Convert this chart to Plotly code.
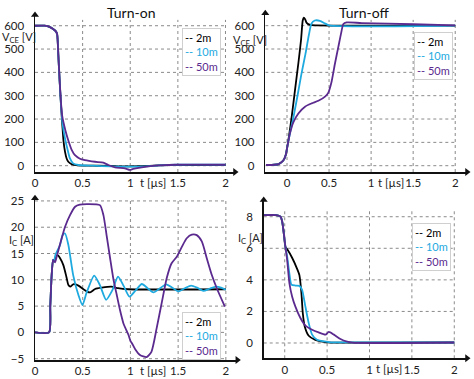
import plotly.graph_objects as go

# ---------------- data ----------------
series_names = ["2m", "10m", "50m"]
colors = ["#000000", "#1ea9df", "#5b2a8e"]

# Turn-on, V_CE [V]
on_v_t_2m = [0, 0.1, 0.157, 0.19, 0.217, 0.232, 0.245, 0.259, 0.273, 0.287, 0.30, 0.315, 0.332, 0.35, 0.385, 0.45, 0.6, 0.8, 0.9, 1.1, 1.3, 1.5, 2.0]
on_v_2m = [600, 600, 594, 586, 577, 565, 474, 360, 260, 174, 103, 60, 31, 17, 6, 1, 0, -1, -3, -2, 1, 3, 3]
on_v_t_10m = [0, 0.1, 0.157, 0.19, 0.217, 0.232, 0.245, 0.259, 0.273, 0.287, 0.315, 0.343, 0.367, 0.40, 0.455, 0.6, 0.8, 1.0, 1.15, 1.3, 1.5, 2.0]
on_v_10m = [600, 600, 594, 586, 577, 565, 474, 360, 262, 188, 117, 67, 31, 10, 3, 0, -3, -4, -3, 1, 4, 4]
on_v_t_50m = [0, 0.1, 0.157, 0.19, 0.217, 0.232, 0.245, 0.259, 0.273, 0.287, 0.32, 0.35, 0.385, 0.42, 0.472, 0.524, 0.63, 0.717, 0.77, 0.84, 0.944, 0.996, 1.03, 1.12, 1.26, 1.47, 2.0]
on_v_50m = [600, 600, 594, 586, 577, 565, 476, 365, 270, 210, 150, 108, 68, 45, 30, 24, 17, 13, 3, -7, -11, -18, -14, -7, 0, 4, 4]

# Turn-off, V_CE [V]
off_v_t_2m = [-0.25, -0.15, -0.1, -0.044, -0.016, 0.008, 0.056, 0.095, 0.135, 0.167, 0.187, 0.2, 0.215, 0.234, 0.274, 0.35, 2.0]
off_v_2m = [3, 4, 7, 22, 45, 90, 210, 324, 439, 539, 622, 634, 628, 612, 603, 601, 600]
off_v_t_10m = [-0.25, -0.15, -0.1, -0.044, -0.016, 0.008, 0.036, 0.075, 0.12, 0.17, 0.22, 0.26, 0.29, 0.33, 0.39, 0.45, 0.5, 2.0]
off_v_10m = [3, 4, 7, 22, 45, 90, 140, 205, 290, 390, 480, 560, 608, 622, 621, 610, 601, 600]
off_v_t_50m = [-0.25, -0.15, -0.1, -0.044, -0.016, 0.008, 0.036, 0.075, 0.135, 0.214, 0.294, 0.373, 0.452, 0.49, 0.53, 0.571, 0.611, 0.643, 0.67, 0.71, 0.89, 1.5, 2.0]
off_v_50m = [3, 4, 7, 22, 45, 90, 140, 186, 224, 253, 267, 278, 296, 312, 360, 439, 510, 567, 607, 614, 611, 606, 601]

# Turn-on, I_C [A]
on_i_t_2m = [0, 0.147, 0.16, 0.175, 0.19, 0.2, 0.215, 0.238, 0.26, 0.297, 0.33, 0.35, 0.37, 0.40, 0.455, 0.507, 0.55, 0.577, 0.63, 0.70, 0.80, 0.87, 0.98, 2.0]
on_i_2m = [0, 0, 5, 11, 13.8, 13.6, 14.3, 14.7, 14.2, 12.8, 10.5, 9.0, 8.7, 9.15, 8.9, 8.2, 7.7, 7.6, 8.25, 8.5, 8.7, 8.4, 8.2, 8.2]
on_i_t_10m = [0, 0.147, 0.16, 0.175, 0.19, 0.2, 0.215, 0.262, 0.29, 0.315, 0.35, 0.40, 0.455, 0.497, 0.54, 0.62, 0.68, 0.745, 0.81, 0.87, 0.93, 0.99, 1.055, 1.12, 1.18, 1.24, 1.31, 1.375, 1.44, 1.5, 1.57, 1.635, 1.70, 1.765, 1.83, 1.895, 1.95, 2.0]
on_i_10m = [0, 0, 5, 11, 13.8, 13.6, 14.8, 16.6, 18.5, 18.8, 16.6, 10.9, 7.1, 5.2, 7.5, 10.8, 9.0, 6.2, 8.0, 10.6, 8.8, 6.8, 8.0, 9.2, 8.4, 7.6, 8.4, 9.15, 8.5, 7.8, 8.4, 8.9, 8.5, 7.9, 8.3, 8.7, 8.5, 8.1]
on_i_t_50m = [0, 0.147, 0.16, 0.175, 0.19, 0.21, 0.23, 0.26, 0.315, 0.367, 0.42, 0.47, 0.55, 0.68, 0.717, 0.75, 0.787, 0.82, 0.857, 0.89, 0.927, 0.98, 1.0, 1.02, 1.05, 1.1, 1.17, 1.22, 1.275, 1.33, 1.38, 1.43, 1.486, 1.54, 1.59, 1.643, 1.695, 1.748, 1.8, 1.853, 1.905, 1.99]
on_i_50m = [0, 0, 5, 11, 13.8, 13.3, 14.6, 16.6, 20.1, 22.3, 23.9, 24.3, 24.4, 24.2, 22.3, 18.5, 14.1, 10.3, 7.1, 4.3, 1.7, -0.5, -1.6, -2.2, -3.2, -4.3, -4.7, -3.7, 0.8, 5.8, 10.3, 13.1, 14.4, 16.3, 17.9, 18.6, 18.5, 17.3, 14.1, 10.9, 8.4, 4.9]

# Turn-off, I_C [A]
off_i_t_2m = [-0.25, -0.1, -0.05, -0.03, -0.01, 0.008, 0.028, 0.087, 0.146, 0.173, 0.197, 0.213, 0.236, 0.283, 0.36, 0.48, 0.6, 2.0]
off_i_2m = [8.1, 8.1, 8.0, 7.7, 6.9, 6.1, 5.95, 5.4, 4.7, 4.3, 3.16, 1.9, 1.05, 0.46, 0.2, 0.05, 0.02, 0.03]
off_i_t_10m = [-0.25, -0.1, -0.05, -0.03, -0.01, 0.008, 0.028, 0.055, 0.079, 0.126, 0.173, 0.205, 0.244, 0.283, 0.323, 0.38, 0.52, 0.8, 2.0]
off_i_10m = [8.1, 8.1, 8.0, 7.7, 6.9, 6.1, 5.5, 4.4, 3.7, 3.64, 3.62, 3.37, 2.3, 1.26, 0.53, 0.2, 0.06, 0.04, 0.03]
off_i_t_50m = [-0.25, -0.1, -0.05, -0.03, -0.01, 0.008, 0.028, 0.055, 0.087, 0.126, 0.185, 0.244, 0.323, 0.4, 0.48, 0.52, 0.58, 0.657, 0.736, 0.795, 2.0]
off_i_50m = [8.1, 8.1, 8.0, 7.7, 6.9, 6.1, 5.3, 3.8, 2.95, 2.3, 1.58, 1.1, 0.84, 0.67, 0.53, 0.7, 0.53, 0.25, 0.08, 0.02, 0.03]

x_ticks = [0, 0.5, 1, 1.5, 2]
x_tick_labels = ["0", "0.5", "1", "1.5", "2"]
v_ticks = [0, 100, 200, 300, 400, 500, 600]
ion_ticks = [-5, 0, 5, 10, 15, 20, 25]
ioff_ticks = [0, 2, 4, 6, 8]

titles = ["Turn-on", "Turn-off"]
v_label = "V<sub>CE</sub> [V]"
i_label = "I<sub>C</sub> [A]"
t_label = "t [µs]"

# ---------------- figure ----------------
W, H = 474, 379
FONT = "Lato"
TICK = 11.5

panels = [
    dict(s="", xd=(35, 235), yd=(172, 15), xr=(0, 2.1), yr=(-27, 646),
         data=[(on_v_t_2m, on_v_2m), (on_v_t_10m, on_v_10m), (on_v_t_50m, on_v_50m)],
         yt=v_ticks, lab=v_label, labpos=(19, 38), xg=[0.5, 1, 1.5, 2], gtop=625,
         leg=(182, 28)),
    dict(s="2", xd=(265.3, 467), yd=(172, 13.3), xr=(-0.258, 2.14), yr=(-27, 653),
         data=[(off_v_t_2m, off_v_2m), (off_v_t_10m, off_v_10m), (off_v_t_50m, off_v_50m)],
         yt=v_ticks, lab=v_label, labpos=(250, 40), xg=[0, 0.5, 1, 1.5, 2], gtop=625,
         leg=(414, 32)),
    dict(s="3", xd=(35, 237.3), yd=(360, 198.3), xr=(0, 2.12), yr=(-5.25, 25.5),
         data=[(on_i_t_2m, on_i_2m), (on_i_t_10m, on_i_10m), (on_i_t_50m, on_i_50m)],
         yt=ion_ticks, lab=i_label, labpos=(21, 240), xg=[0.5, 1, 1.5, 2], gtop=25.5,
         leg=(182, 312)),
    dict(s="4", xd=(263.7, 467), yd=(358.3, 200), xr=(-0.248, 2.15), yr=(-0.97, 9.06),
         data=[(off_i_t_2m, off_i_2m), (off_i_t_10m, off_i_10m), (off_i_t_50m, off_i_50m)],
         yt=ioff_ticks, lab=i_label, labpos=(250, 238), xg=[0, 0.5, 1, 1.5, 2], gtop=8.5,
         leg=(412, 223)),
]

fig = go.Figure()
layout = dict(width=W, height=H, margin=dict(l=0, r=0, t=0, b=0),
              paper_bgcolor="white", plot_bgcolor="white", showlegend=False,
              font=dict(family=FONT, size=12, color="#222"))
shapes, annotations = [], []

for p in panels:
    s = p["s"]
    xa, ya = "x" + s, "y" + s
    for (tx, vy), name, c in zip(p["data"], series_names, colors):
        fig.add_trace(go.Scatter(x=tx, y=vy, mode="lines", name=name, xaxis=xa, yaxis=ya,
                                 line=dict(color=c, width=1.8, shape="spline", smoothing=0.6),
                                 hoverinfo="skip"))
    # axis arrowheads
    fig.add_trace(go.Scatter(x=[p["xr"][1], p["xr"][0]], y=[p["yr"][0], p["yr"][1]], mode="markers",
                             xaxis=xa, yaxis=ya, cliponaxis=False, hoverinfo="skip",
                             marker=dict(symbol=["triangle-right", "triangle-up"], size=7,
                                         color="#111", line=dict(width=0))))
    layout["xaxis" + s] = dict(domain=[p["xd"][0] / W, p["xd"][1] / W], range=list(p["xr"]),
                               anchor=ya, showgrid=False, zeroline=False, showline=True,
                               linecolor="#111", linewidth=1.5, tickmode="array",
                               tickvals=x_ticks, ticktext=x_tick_labels, ticks="", ticklen=0,
                               ticklabelstandoff=0, tickfont=dict(size=TICK, color="#222"),
                               automargin=False, fixedrange=True)
    layout["yaxis" + s] = dict(domain=[1 - p["yd"][0] / H, 1 - p["yd"][1] / H], range=list(p["yr"]),
                               anchor=xa, showgrid=False, zeroline=False, showline=True,
                               linecolor="#111", linewidth=1.5, tickmode="array",
                               tickvals=p["yt"], ticks="", ticklen=0, ticklabelstandoff=7,
                               tickfont=dict(size=TICK, color="#222"), automargin=False,
                               fixedrange=True)
    # grid
    gy = [v for v in p["yt"] if v > p["yr"][0] + 1e-9]
    for v in gy:
        shapes.append(dict(type="line", xref=xa, yref=ya, x0=p["xr"][0], x1=2, y0=v, y1=v,
                           layer="below", line=dict(color="#8a8a8a", width=1, dash="dot")))
    for v in p["xg"]:
        shapes.append(dict(type="line", xref=xa, yref=ya, x0=v, x1=v, y0=p["yr"][0], y1=p["gtop"],
                           layer="below", line=dict(color="#8a8a8a", width=1, dash="dot")))
    # axis labels
    annotations.append(dict(xref="paper", yref="paper", x=p["labpos"][0] / W, y=1 - p["labpos"][1] / H,
                            text=p["lab"], showarrow=False, font=dict(size=11, color="#222"),
                            xanchor="center", yanchor="middle"))
    annotations.append(dict(xref=xa, yref="paper", x=1.235, y=1 - (p["yd"][0] + 10) / H,
                            text=t_label, showarrow=False, font=dict(size=TICK, color="#222"),
                            xanchor="center", yanchor="middle"))
    # legend box
    leg_txt = "<br>".join(f"<span style='color:{c}'>-- {n}</span>" for n, c in zip(series_names, colors))
    annotations.append(dict(xref="paper", yref="paper", x=p["leg"][0] / W, y=1 - p["leg"][1] / H,
                            xanchor="left", yanchor="top", text=leg_txt, showarrow=False, align="left",
                            font=dict(size=11), bgcolor="white", bordercolor="#cfcfcf",
                            borderwidth=1, borderpad=2))

annotations.append(dict(xref="paper", yref="paper", x=131 / W, y=1 - 12 / H, text=titles[0],
                        showarrow=False, font=dict(size=14, color="#111"), xanchor="center", yanchor="middle"))
annotations.append(dict(xref="paper", yref="paper", x=364 / W, y=1 - 12 / H, text=titles[1],
                        showarrow=False, font=dict(size=14, color="#111"), xanchor="center", yanchor="middle"))

layout["shapes"] = shapes
layout["annotations"] = annotations
fig.update_layout(**layout)
fig.write_html("out.html", config={"displayModeBar": False, "staticPlot": True},
               post_script="document.body.style.margin='0';document.body.style.padding='0';")
